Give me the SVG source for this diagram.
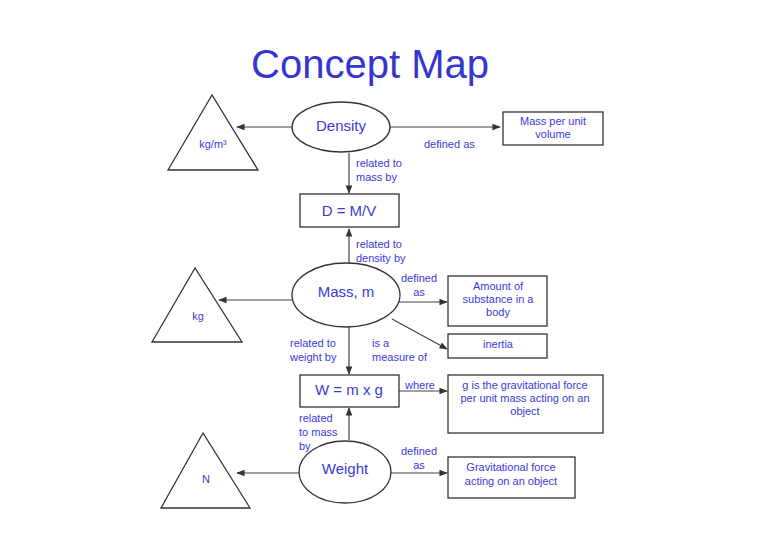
<svg xmlns="http://www.w3.org/2000/svg" width="768" height="543" viewBox="0 0 768 543">
<defs>
<marker id="ah" viewBox="0 0 10 10" refX="9" refY="5" markerWidth="7" markerHeight="7" orient="auto"><path d="M0,1 L10,5 L0,9 z" fill="#333"/></marker>
<style>
.s{fill:#fff;stroke:#333;stroke-width:1.3}
.c{stroke:#444;stroke-width:1.2;fill:none;marker-end:url(#ah)}
text{font-family:"Liberation Sans",Arial,sans-serif;fill:#3a3ad8}
.n{font-size:15px;text-anchor:middle}
.m{font-size:11px;text-anchor:middle}
.l{font-size:11px}
</style>
</defs>
<rect width="768" height="543" fill="#fff"/>
<text x="370" y="78" style="font-size:40px;text-anchor:middle;fill:#3535d0">Concept Map</text>
<g id="connectors">
<line class="c" x1="292" y1="127" x2="237" y2="127"/>
<line class="c" x1="390" y1="127" x2="500" y2="127"/>
<line class="c" x1="349" y1="153" x2="349" y2="193"/>
<line class="c" x1="349" y1="264" x2="349" y2="229"/>
<line class="c" x1="292" y1="300" x2="219" y2="300"/>
<line class="c" x1="399" y1="302" x2="447" y2="302"/>
<line class="c" x1="392" y1="319" x2="447" y2="349"/>
<line class="c" x1="349" y1="326" x2="349" y2="374"/>
<line class="c" x1="399" y1="391" x2="447" y2="391"/>
<line class="c" x1="349" y1="440" x2="349" y2="408"/>
<line class="c" x1="300" y1="473" x2="237" y2="473"/>
<line class="c" x1="390" y1="473" x2="447" y2="473"/>
<text class="l" x="424" y="148">defined as</text>
<text class="l" x="356" y="167">related to</text><text class="l" x="356" y="181">mass by</text>
<text class="l" x="356" y="248">related to</text><text class="l" x="356" y="262">density by</text>
<text class="m" x="419" y="282">defined</text><text class="m" x="419" y="296">as</text>
<text class="l" x="290" y="347">related to</text><text class="l" x="290" y="361">weight by</text>
<text class="l" x="372" y="347">is a</text><text class="l" x="372" y="361">measure of</text>
<text class="l" x="405" y="389">where</text>
<text class="l" x="299" y="422">related</text><text class="l" x="299" y="436">to mass</text><text class="l" x="299" y="450">by</text>
<text class="m" x="419" y="455">defined</text><text class="m" x="419" y="469">as</text>
</g>
<g id="density"><ellipse class="s" cx="341" cy="127" rx="49" ry="25"/><text class="n" x="341" y="131">Density</text></g>
<g id="kgm3"><polygon class="s" points="212,95 168,170 258,170"/><text class="m" x="213" y="148">kg/m³</text></g>
<g id="massperunit"><rect class="s" x="503" y="112" width="100" height="33"/><text class="m" x="553" y="125">Mass per unit</text><text class="m" x="553" y="138">volume</text></g>
<g id="dmv"><rect class="s" x="300" y="194" width="99" height="33"/><text class="n" x="349" y="216">D = M/V</text></g>
<g id="mass"><ellipse class="s" cx="346" cy="295" rx="54" ry="32"/><text class="n" x="346" y="297">Mass, m</text></g>
<g id="kg"><polygon class="s" points="195,268 152,342 242,342"/><text class="m" x="198" y="320">kg</text></g>
<g id="amount"><rect class="s" x="448" y="276" width="99" height="50"/><text class="m" x="498" y="290">Amount of</text><text class="m" x="498" y="303">substance in a</text><text class="m" x="498" y="316">body</text></g>
<g id="inertia"><rect class="s" x="448" y="334" width="99" height="24"/><text class="m" x="498" y="348">inertia</text></g>
<g id="wmg"><rect class="s" x="300" y="375" width="99" height="32"/><text class="n" x="349" y="395">W = m x g</text></g>
<g id="g"><rect class="s" x="448" y="375" width="155" height="58"/><text class="m" x="525" y="389">g is the gravitational force</text><text class="m" x="525" y="402">per unit mass acting on an</text><text class="m" x="525" y="415">object</text></g>
<g id="weight"><ellipse class="s" cx="345" cy="472" rx="46" ry="31"/><text class="n" x="345" y="474">Weight</text></g>
<g id="n"><polygon class="s" points="203,433 161,508 250,508"/><text class="m" x="206" y="483">N</text></g>
<g id="gravforce"><rect class="s" x="448" y="457" width="127" height="41"/><text class="m" x="511" y="471">Gravitational force</text><text class="m" x="511" y="485">acting on an object</text></g>
</svg>
